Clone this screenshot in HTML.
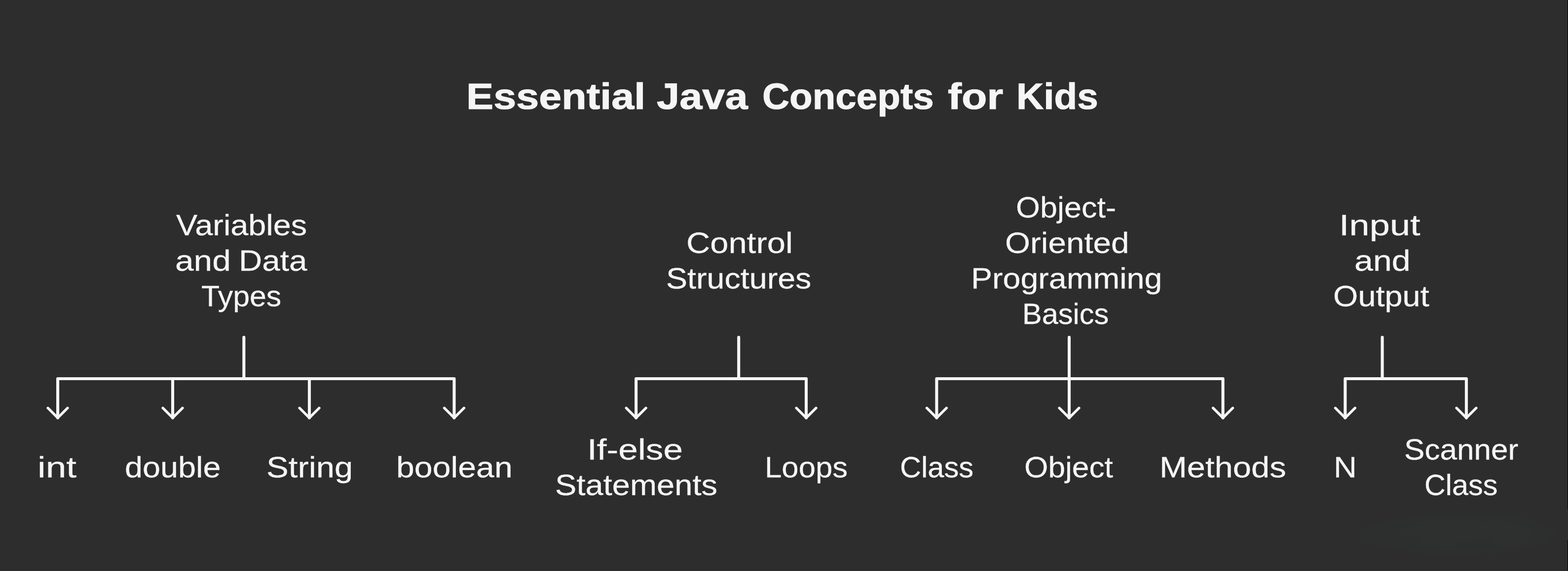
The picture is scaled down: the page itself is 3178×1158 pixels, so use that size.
<!DOCTYPE html>
<html lang="en">
<head>
<meta charset="utf-8">
<title>Essential Java Concepts for Kids</title>
<style>
html,body{margin:0;padding:0;background:#2d2d2d;}
html{width:3178px;height:1158px;}
body{width:3178px;height:1158px;position:relative;font-family:"Liberation Sans",sans-serif;color:#f5f5f5;}
.canvas{position:absolute;left:0;top:0;width:3178px;height:1158px;background:#2d2d2d;overflow:hidden;}
h1,.node,.leaf{margin:0;padding:0;font-weight:normal;}
.w{position:absolute;white-space:nowrap;line-height:1;font-size:60.0px;font-kerning:normal;transform-origin:0 84.65%;-webkit-text-stroke:0.3px #f5f5f5;}
h1 .w{font-size:75px;font-weight:bold;-webkit-text-stroke:1.05px #f5f5f5;}
svg{position:absolute;left:0;top:0;}
.wm{position:absolute;left:2740px;top:1040px;width:438px;height:88px;background:radial-gradient(ellipse at 50% 50%,rgba(46,48,48,0.9) 0%,rgba(46,48,48,0.6) 45%,rgba(45,45,45,0) 72%);}
.edge{position:absolute;left:3177px;width:1px;background:#000;}
.c{fill:none;stroke:#f5f5f5;stroke-linecap:round;stroke-linejoin:round;}
</style>
</head>
<body>
<main class="canvas">
<h1>
<span class="w" style="left:945.01px;top:157.81px;transform:scaleX(1.1031)">Essential</span> <span class="w" style="left:1331.42px;top:157.81px;transform:scaleX(1.1066)">Java</span> <span class="w" style="left:1545.47px;top:157.81px;transform:scaleX(1.0177)">Concepts</span> <span class="w" style="left:1921.40px;top:157.81px;transform:scaleX(1.1231)">for</span> <span class="w" style="left:2060.42px;top:157.81px;transform:scaleX(1.0203)">Kids</span>
</h1>
<div class="node" id="n1">
<span class="w" style="left:357.45px;top:426.51px;transform:scaleX(1.0789)">Variables</span>
<span class="w" style="left:354.90px;top:498.51px;transform:scaleX(1.1263)">and</span> <span class="w" style="left:483.78px;top:498.51px;transform:scaleX(1.0918)">Data</span>
<span class="w" style="left:407.64px;top:570.51px;transform:scaleX(1.0135)">Types</span>
</div>
<div class="node" id="n2">
<span class="w" style="left:1390.80px;top:462.51px;transform:scaleX(1.1155)">Control</span>
<span class="w" style="left:1350.00px;top:534.51px;transform:scaleX(1.0767)">Structures</span>
</div>
<div class="node" id="n3">
<span class="w" style="left:2059.05px;top:390.51px;transform:scaleX(1.0491)">Object-</span>
<span class="w" style="left:2036.96px;top:462.51px;transform:scaleX(1.0932)">Oriented</span>
<span class="w" style="left:1967.55px;top:534.51px;transform:scaleX(1.0756)">Programming</span>
<span class="w" style="left:2072.18px;top:606.51px;transform:scaleX(0.9923)">Basics</span>
</div>
<div class="node" id="n4">
<span class="w" style="left:2714.38px;top:426.51px;transform:scaleX(1.2339)">Input</span>
<span class="w" style="left:2744.58px;top:498.51px;transform:scaleX(1.1368)">and</span>
<span class="w" style="left:2702.39px;top:570.51px;transform:scaleX(1.0810)">Output</span>
</div>
<div class="leaf" id="l1">
<span class="w" style="left:76.16px;top:917.91px;transform:scaleX(1.2479)">int</span>
</div>
<div class="leaf" id="l2">
<span class="w" style="left:252.69px;top:917.91px;transform:scaleX(1.0796)">double</span>
</div>
<div class="leaf" id="l3">
<span class="w" style="left:539.61px;top:917.91px;transform:scaleX(1.1185)">String</span>
</div>
<div class="leaf" id="l4">
<span class="w" style="left:802.84px;top:917.91px;transform:scaleX(1.1039)">boolean</span>
</div>
<div class="leaf" id="l5">
<span class="w" style="left:1190.01px;top:881.91px;transform:scaleX(1.1883)">If-else</span>
<span class="w" style="left:1124.98px;top:953.91px;transform:scaleX(1.0842)">Statements</span>
</div>
<div class="leaf" id="l6">
<span class="w" style="left:1549.54px;top:917.91px;transform:scaleX(1.0287)">Loops</span>
</div>
<div class="leaf" id="l7">
<span class="w" style="left:1823.97px;top:917.91px;transform:scaleX(0.9943)">Class</span>
</div>
<div class="leaf" id="l8">
<span class="w" style="left:2076.48px;top:917.91px;transform:scaleX(1.0370)">Object</span>
</div>
<div class="leaf" id="l9">
<span class="w" style="left:2349.69px;top:917.91px;transform:scaleX(1.1159)">Methods</span>
</div>
<div class="leaf" id="l10">
<span class="w" style="left:2702.81px;top:917.91px;transform:scaleX(1.0857)">N</span>
</div>
<div class="leaf" id="l11">
<span class="w" style="left:2845.88px;top:881.91px;transform:scaleX(1.0349)">Scanner</span>
<span class="w" style="left:2887.48px;top:953.91px;transform:scaleX(0.9888)">Class</span>
</div>
<svg width="3178" height="1158" viewBox="0 0 3178 1158" aria-hidden="true">
<path class="c" style="stroke-width:6.1" d="M494.3 683.95V768.0M117.05 847.4V768.0H920.5V847.4M350 768.0V847.4M627 768.0V847.4"/>
<path class="c" style="stroke-width:5.2" d="M97.05 827.4L117.05 847.4L137.05 827.4M330.0 827.4L350 847.4L370.0 827.4M607.0 827.4L627 847.4L647.0 827.4M900.5 827.4L920.5 847.4L940.5 827.4"/>
<path class="c" style="stroke-width:6.1" d="M1497.2 683.95V768.0M1289.2 847.4V768.0H1634V847.4"/>
<path class="c" style="stroke-width:5.2" d="M1269.2 827.4L1289.2 847.4L1309.2 827.4M1614.0 827.4L1634 847.4L1654.0 827.4"/>
<path class="c" style="stroke-width:6.1" d="M2167 683.95V768.0M1898.4 847.4V768.0H2478.6V847.4M2167 768.0V847.4"/>
<path class="c" style="stroke-width:5.2" d="M1878.4 827.4L1898.4 847.4L1918.4 827.4M2147.0 827.4L2167 847.4L2187.0 827.4M2458.6 827.4L2478.6 847.4L2498.6 827.4"/>
<path class="c" style="stroke-width:6.1" d="M2801.6 683.95V768.0M2726.4 847.4V768.0H2972V847.4"/>
<path class="c" style="stroke-width:5.2" d="M2706.4 827.4L2726.4 847.4L2746.4 827.4M2952.0 827.4L2972 847.4L2992.0 827.4"/>
</svg>
<div class="wm"></div>
<div class="edge" style="top:0;height:1032px"></div><div class="edge" style="top:1096px;height:62px"></div>
</main>
</body>
</html>
